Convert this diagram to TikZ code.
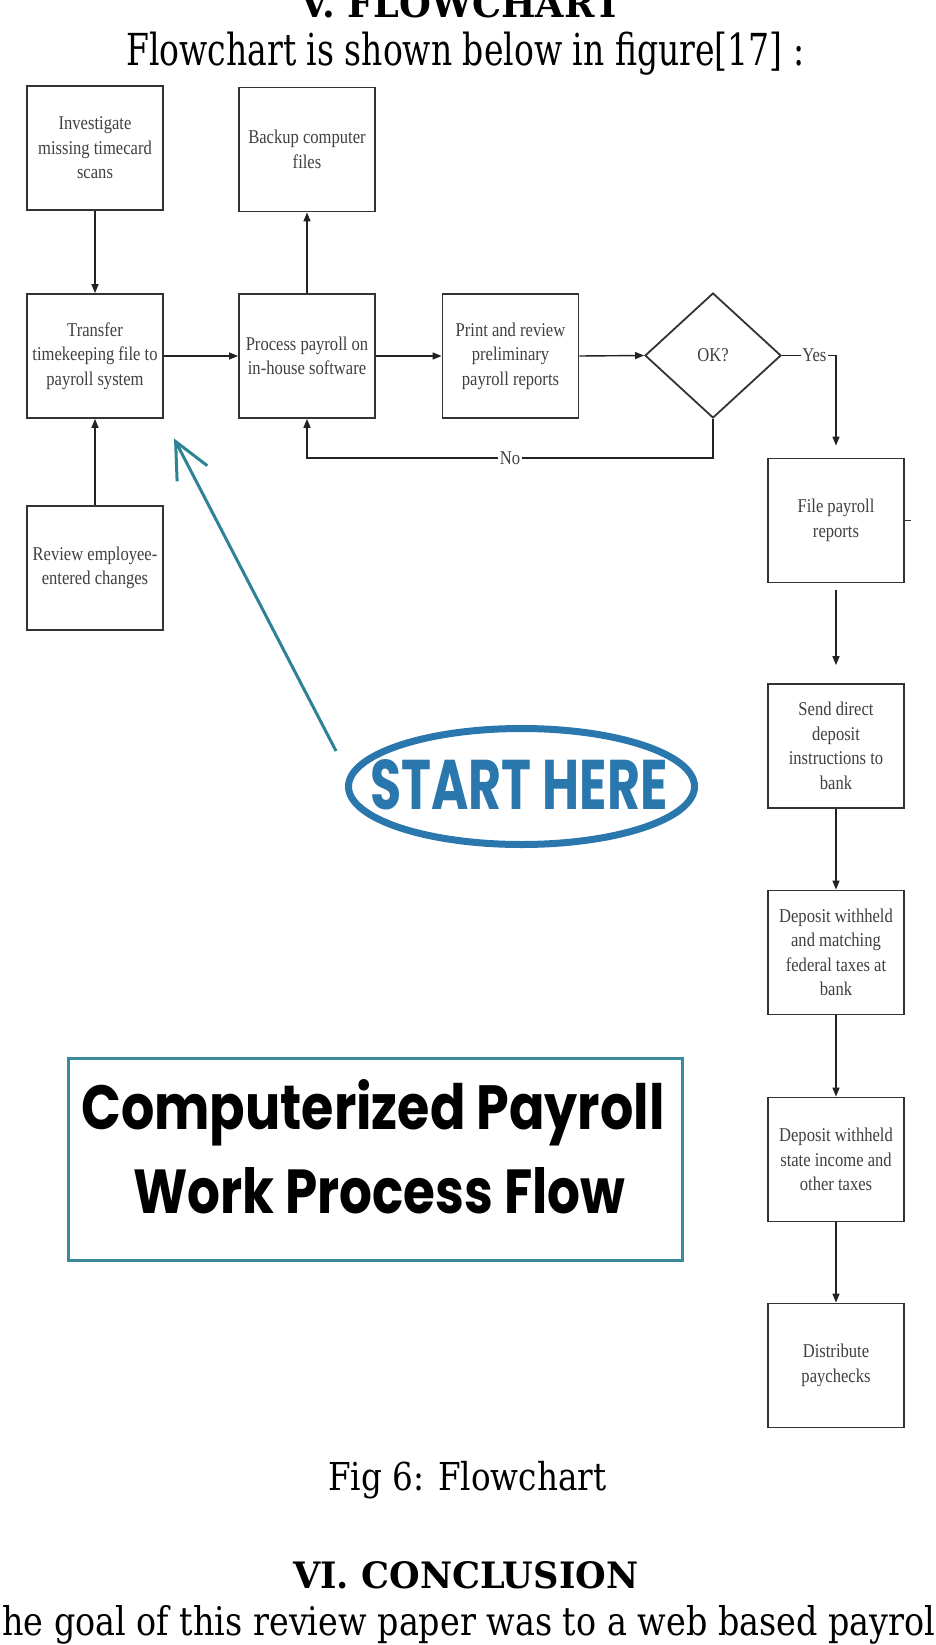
\documentclass[tikz,border=0pt]{standalone}
\usepackage{fontspec}
\usepackage{graphicx}
\usetikzlibrary{shapes.geometric,arrows.meta}
\newfontfamily\bodyserif{DejaVu Serif}
\newfontfamily\boxfont[FakeStretch=0.85]{Liberation Serif}
\newfontfamily\gothic{Poppins}
\definecolor{boxline}{HTML}{333333}
\definecolor{boxtext}{HTML}{404040}
\definecolor{arrowline}{HTML}{222222}
\definecolor{startblue}{HTML}{2A77AE}
\definecolor{tealarrow}{HTML}{2E8296}
\definecolor{tealframe}{HTML}{3B8A99}
\tikzset{
  pbox/.style={draw=boxline, line width=1.8pt, minimum width=136pt, minimum height=124pt,
    inner sep=2pt, align=center, text=boxtext, font=\boxfont\fontsize{19.5}{24.5}\selectfont},
  decision/.style={diamond, draw=boxline, line width=1.8pt, minimum width=136pt, minimum height=125pt,
    inner sep=0pt, text=boxtext, font=\boxfont\fontsize{19.5}{24.5}\selectfont},
  flow/.style={draw=arrowline, line width=1.4pt, -{Triangle[length=9pt,width=7pt]}},
  lbl/.style={fill=white, inner sep=1.5pt, text=boxtext, font=\boxfont\fontsize{19.5}{24.5}\selectfont},
  plain/.style={inner sep=0pt, anchor=base west},
  startarrow/.style={draw=tealarrow, line width=3pt, -{Straight Barb[length=36pt,width=34pt]}},
}
\begin{document}
\begin{tikzpicture}[x=1pt,y=-1pt]
\useasboundingbox (0,0) rectangle (936,1645);
\fill[white] (0,0) rectangle (936,1645);
\clip (0,0) rectangle (936,1645);

% heading texts
\node[plain] (title) at (300,18) {\resizebox{321pt}{28pt}{\bodyserif\bfseries V. FLOWCHART}};
\node[plain] (intro) at (126,66) {\resizebox{678pt}{33.5pt}{\bodyserif Flowchart is shown below in figure[17] :}};

% left column
\node[pbox] (invest) at (95,148) {Investigate\\missing timecard\\scans};
\node[pbox] (transfer) at (95,356) {Transfer\\timekeeping file to\\payroll system};
\node[pbox] (review) at (95,568) {Review employee-\\entered changes};

% second column
\node[pbox] (backup) at (307,149.5) {Backup computer\\files};
\node[pbox] (process) at (307,356) {Process payroll on\\in-house software};

% third
\node[pbox] (print) at (510.5,356) {Print and review\\preliminary\\payroll reports};
\node[decision] (ok) at (713,355.5) {OK?};

% right column
\node[pbox] (file) at (836,520.5) {File payroll\\reports};
\node[pbox] (send) at (836,746) {Send direct\\deposit\\instructions to\\bank};
\node[pbox] (federal) at (836,952.5) {Deposit withheld\\and matching\\federal taxes at\\bank};
\node[pbox] (state) at (836,1159.5) {Deposit withheld\\state income and\\other taxes};
\node[pbox] (distribute) at (836,1365.5) {Distribute\\paychecks};

% connectors
\draw[flow] (invest.south) -- (transfer.north);
\draw[flow] (review.north) -- (transfer.south);
\draw[flow] (transfer.east) -- (process.west);
\draw[flow] (process.north) -- (backup.south);
\draw[flow] (process.east) -- (print.west);
\draw[flow] (print.east) -- (ok.west);
\draw[flow, shorten >=12pt] (ok.east) -- node[lbl, pos=0.6] (yes) {Yes} (ok.east -| file.north) -- (file.north);
\coordinate (noturn) at (307,458);
\draw[flow] (ok.south) |- node[lbl, pos=0.75] (no) {No} (noturn) -- (process.south);
\draw[flow, shorten <=7pt, shorten >=18pt] (file.south) -- (send.north);
\draw[flow] (send.south) -- (federal.north);
\draw[flow] (federal.south) -- (state.north);
\draw[flow] (state.south) -- (distribute.north);
\draw[draw=boxline, line width=1.4pt] (file.east) -- ++(6,0);

% start here
\node[ellipse, draw=startblue, line width=7pt, minimum width=346pt, minimum height=116pt, inner sep=0pt] (start) at (521.5,786.5) {};
\node[inner sep=0pt, text=startblue] (starttxt) at (519,785) {\resizebox{297pt}{50pt}{\gothic\bfseries START HERE}};
\coordinate (starttail) at (336,751);
\draw[startarrow, shorten >=22pt] (starttail) -- (transfer.south east);

% title frame
\node[draw=tealframe, line width=3pt, minimum width=614pt, minimum height=202pt, inner sep=0pt] (frame) at (375.5,1159.5) {};
\node[plain] (cp1) at (81,1129) {\resizebox{583pt}{50pt}{\gothic\bfseries Computerized Payroll}};
\node[plain] (cp2) at (133,1213) {\resizebox{492pt}{46pt}{\gothic\bfseries Work Process Flow}};

% caption and following text
\node[plain] (caption) at (328,1490) {\resizebox{278pt}{29.2pt}{\bodyserif Fig 6: Flowchart}};
\node[plain] (concl) at (293,1588) {\resizebox{345pt}{27pt}{\bodyserif\bfseries VI. CONCLUSION}};
\node[plain] (goal) at (2,1635) {\resizebox{933pt}{30pt}{\bodyserif he goal of this review paper was to a web based payrol}};
\end{tikzpicture}
\end{document}
